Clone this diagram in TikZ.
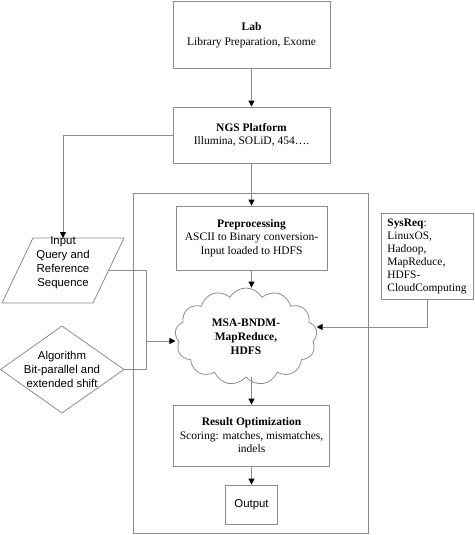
\documentclass[tikz,border=0pt]{standalone}
\usepackage{fontspec}
\setmainfont{Liberation Serif}
\setsansfont{Liberation Sans}
\usetikzlibrary{arrows.meta,shapes.symbols}
\definecolor{lg}{HTML}{8C8C8C}
\tikzset{
  box/.style={draw=lg, line width=0.8pt, inner sep=0pt, align=center, font=\fontsize{11.5}{13.5}\selectfont},
  sanstext/.style={inner sep=0pt, align=center, font=\sffamily\fontsize{11.4}{14}\selectfont},
  conn/.style={draw=lg, line width=0.8pt},
  arr/.style={conn, -{Triangle[width=6pt,length=6pt,color=black]}},
}
\begin{document}
\begin{tikzpicture}[x=1pt,y=-1pt]
\useasboundingbox (0,0) rectangle (474,535);
% container
\node[box, minimum width=235, minimum height=340.5] (container) at (250.5,363.5) {};
% boxes
\node[box, minimum width=157, minimum height=66.5] (lab) at (251.5,35) {\textbf{Lab}\\[1.5pt] Library Preparation, Exome};
\node[box, minimum width=157, minimum height=56] (ngs) at (251.5,135) {\textbf{NGS Platform}\\ Illumina, SOLiD, 454\ldots.};
\node[box, minimum width=151, minimum height=64] (pre) at (251.5,238) {\textbf{Preprocessing}\\ ASCII to Binary conversion-\\ Input loaded to HDFS};
\node[box, minimum width=156, minimum height=61] (res) at (251.5,435.5) {\textbf{Result Optimization}\\ Scoring: matches, mismatches,\\ indels};
\node[box, font=\sffamily\fontsize{11.4}{14}\selectfont, minimum width=52, minimum height=39] (out) at (251.5,504.5) {Output};
\node[box, minimum width=92, minimum height=86, align=left, font=\fontsize{11.4}{13}\selectfont] (sys) at (427,256) {\textbf{SysReq}:\\LinuxOS,\\Hadoop,\\MapReduce,\\HDFS-\\CloudComputing};
% input parallelogram
\draw[conn] (33,238) -- (124,238) -- (93,303) -- (2,303) -- cycle;
\node[sanstext] (input) at (63,263) {Input\\Query and\\Reference\\Sequence};
\coordinate (inTop) at (63,238);
\coordinate (inR) at (109,270);
% algorithm diamond
\draw[conn] (62,326) -- (124,369.5) -- (62,413) -- (0.5,369.5) -- cycle;
\node[sanstext] (alg) at (62,369) {Algorithm\\Bit-parallel and\\extended shift};
\coordinate (algR) at (124,369.5);
% cloud
\node[cloud, draw=lg, line width=0.8pt, cloud puffs=13, cloud puff arc=120, aspect=1.46,
      minimum width=142, minimum height=97, inner sep=0pt, align=center,
      font=\bfseries\fontsize{11.5}{14}\selectfont] (cloud) at (246,336.5) {MSA-BNDM-\\MapReduce,\\HDFS};
\coordinate (j) at (146,341);
% connectors
\draw[arr] (lab) -- (ngs);
\draw[arr] (ngs.west) -| (inTop);
\draw[arr] (ngs) -- (pre);
\draw[arr] (pre.south) -- (pre.south |- cloud.north);
\draw[arr] (res.north |- cloud.south) -- (res.north);
\draw[arr] (res) -- (out);
\draw[conn] (inR) -| (j);
\draw[conn] (algR) -| (j);
\draw[arr] (j) -- (j -| cloud.west);
\draw[arr] (sys.south) |- ([yshift=9.5pt]cloud.east);
\end{tikzpicture}
\end{document}
